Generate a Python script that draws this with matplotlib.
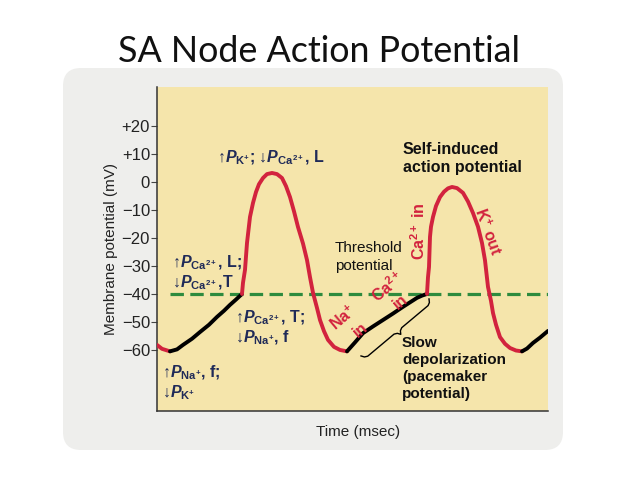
import numpy as np
import matplotlib
matplotlib.use("Agg")
from matplotlib import pyplot as plt
from matplotlib.patches import FancyBboxPatch
from matplotlib.transforms import IdentityTransform

plt.rcParams['font.family'] = ['Liberation Sans', 'DejaVu Sans']
plt.rcParams['mathtext.fontset'] = 'custom'
plt.rcParams['mathtext.it'] = 'Liberation Sans:bold:italic'
plt.rcParams['mathtext.rm'] = 'Liberation Sans:bold'
plt.rcParams['mathtext.bf'] = 'Liberation Sans:bold'

# membrane potential trace (time in arbitrary msec units, mV)
red1_t = [0, 5, 13]
red1_v = [-58.2, -59.6, -60.5]
black1_t = [13, 20, 26, 35, 43, 52, 60, 67, 73, 79, 85]
black1_v = [-60.5, -59.8, -58.2, -56.0, -53.6, -51.0, -48.2, -46.0, -43.9, -42.0, -40.0]
red2_t = [85, 86, 88, 90, 93, 96, 99, 102, 106, 110, 115, 120, 125, 129, 133, 137, 141,
          146, 150, 153, 156, 160, 163, 167, 171, 177, 183, 190]
red2_v = [-40.0, -36.0, -31.4, -21.8, -12.5, -7.5, -3.6, -0.8, 1.4, 2.8, 3.2, 2.8, 1.4, -1.5,
          -5.4, -10.5, -16.1, -22.0, -27.9, -34.0, -39.6, -45.0, -49.3, -53.3, -56.4, -58.9, -60.0, -60.5]
black2_t = [190, 198, 206, 216, 226, 236, 246, 253, 260, 265, 270]
black2_v = [-60.5, -57.3, -54.0, -51.6, -49.3, -47.0, -44.6, -43.0, -41.4, -40.6, -40.0]
red3_t = [270, 271, 272, 273, 274, 276, 279, 283, 287, 291, 295, 300, 306, 311, 316, 321,
          325, 328, 331, 334, 336, 339, 343, 348, 353, 359, 365]
red3_v = [-40.0, -34.0, -30.4, -19.6, -16.0, -12.5, -8.6, -5.4, -3.5, -2.3, -1.8, -2.2, -3.9,
          -7.0, -11.1, -16.0, -21.8, -28.0, -37.5, -42.5, -46.8, -51.0, -55.4, -57.8, -59.3, -60.2, -60.5]
black3_t = [365, 370, 376, 383, 391]
black3_v = [-60.5, -59.5, -57.5, -55.6, -53.2]

threshold = -40
yticks = [20, 10, 0, -10, -20, -30, -40, -50, -60]
ytick_labels = ['+20', '+10', '0', '\u221210', '\u221220', '\u221230', '\u221240', '\u221250', '\u221260']

RED = '#d2233e'
NAVY = '#1f2a58'

W, H = 638, 479
fig = plt.figure(figsize=(W / 100, H / 100), dpi=100)
fig.patch.set_facecolor('white')

# the grey photo card behind the chart
card = FancyBboxPatch((63, H - 450), 500, 382, boxstyle='round,pad=0,rounding_size=18',
                      transform=IdentityTransform(), facecolor='#eeeeec', edgecolor='none', zorder=-5)
fig.patches.append(card)

fig.text(0.5, 0.893, 'SA Node Action Potential', ha='center', va='center',
         fontsize=25.8, family=['Lato', 'DejaVu Sans'], color='#111111')

ax = fig.add_axes([157 / W, (H - 411) / H, (548 - 157) / W, (411 - 87) / H])
ax.set_zorder(2)
ax.set_facecolor('#f5e5ab')
ax.set_xlim(0, 391)
ax.set_ylim(-81.8, 33.9)

for s in ['top', 'right']:
    ax.spines[s].set_visible(False)
for s in ['left', 'bottom']:
    ax.spines[s].set_color('#333333')
    ax.spines[s].set_linewidth(1.1)
ax.set_xticks([])
ax.set_yticks(yticks)
ax.set_yticklabels(ytick_labels, fontsize=12, color='#222222')
ax.tick_params(axis='y', direction='out', length=4, width=0.8, color='#444444', pad=1)

ax.set_ylabel('Membrane potential (mV)', fontsize=11, color='#222222', labelpad=3)
fig.text(358 / W, (H - 432) / H, 'Time (msec)', ha='center', va='center', fontsize=11,
         color='#222222', zorder=3)

ax.plot([13, 391], [threshold, threshold], color='#2e8b3e', lw=2.3,
        linestyle=(0, (4.2, 2.0)), zorder=2)

for t, v, c in [(red1_t, red1_v, RED), (black1_t, black1_v, 'black'), (red2_t, red2_v, RED),
                (black2_t, black2_v, 'black'), (red3_t, red3_v, RED), (black3_t, black3_v, 'black')]:
    ax.plot(t, v, color=c, lw=2.8, solid_capstyle='round', solid_joinstyle='round', zorder=3)


def px(x, y):
    return x - 157, (182 - y) / 2.8


# curly brace under the second slow depolarization
p0 = np.array([361.0, 356.0])
p1 = np.array([429.0, 299.0])
d = (p1 - p0) / np.linalg.norm(p1 - p0)
n = np.array([-d[1], d[0]])
if n[1] < 0:
    n = -n
L = np.linalg.norm(p1 - p0)
s_pts = [0, 2, 5, L / 2 - 5, L / 2 - 2, L / 2, L / 2 + 2, L / 2 + 5, L - 5, L - 2, L]
h_pts = [0, 3, 4.5, 4.5, 6, 9, 6, 4.5, 4.5, 3, 0]
bx, by = [], []
for s, h in zip(s_pts, h_pts):
    q = p0 + d * s + n * h
    tx, ty = px(q[0], q[1])
    bx.append(tx)
    by.append(ty)
ax.plot(bx, by, color='black', lw=1.0, zorder=3)

lab = dict(fontsize=11.5, color=NAVY, ha='left', va='center', fontweight='bold')
ax.text(*px(217, 158), '\u2191$P_{\\mathrm{K}^{+}}$; \u2193$P_{\\mathrm{Ca}^{2+}}$, L', **lab)
ax.text(*px(172, 263), '\u2191$P_{\\mathrm{Ca}^{2+}}$, L;', **lab)
ax.text(*px(172, 283), '\u2193$P_{\\mathrm{Ca}^{2+}}$,T', **lab)
ax.text(*px(235, 318), '\u2191$P_{\\mathrm{Ca}^{2+}}$, T;', **lab)
ax.text(*px(235, 338), '\u2193$P_{\\mathrm{Na}^{+}}$, f', **lab)
ax.text(*px(162, 373), '\u2191$P_{\\mathrm{Na}^{+}}$, f;', **lab)
ax.text(*px(162, 393), '\u2193$P_{\\mathrm{K}^{+}}$', **lab)

ax.text(*px(335, 248), 'Threshold', fontsize=11, color='#111111', ha='left', va='center')
ax.text(*px(335, 266), 'potential', fontsize=11, color='#111111', ha='left', va='center')

for y, s in [(150, 'Self-induced'), (168, 'action potential')]:
    ax.text(*px(403, y), s, fontsize=11.5, fontweight='bold', color='#111111', ha='left', va='center')
for y, s in [(343, 'Slow'), (360, 'depolarization'), (377, '(pacemaker'), (394, 'potential)')]:
    ax.text(*px(402, y), s, fontsize=11, fontweight='bold', color='#111111', ha='left', va='center')

red_lab = dict(fontsize=11.5, fontweight='bold', color=RED, ha='center', va='center')
ax.text(*px(343, 318), 'Na$^{+}$', rotation=40, **red_lab)
ax.text(*px(360, 330), 'in', rotation=40, **red_lab)
ax.text(*px(388, 287), 'Ca$^{2+}$', rotation=40, **red_lab)
ax.text(*px(400, 302), 'in', rotation=40, **red_lab)
ax.text(*px(419, 231), 'Ca$^{2+}$ in', rotation=90, **red_lab)
ax.text(*px(488, 232), 'K$^{+}$ out', rotation=-70, **red_lab)

plt.savefig('out.png', dpi=100)
